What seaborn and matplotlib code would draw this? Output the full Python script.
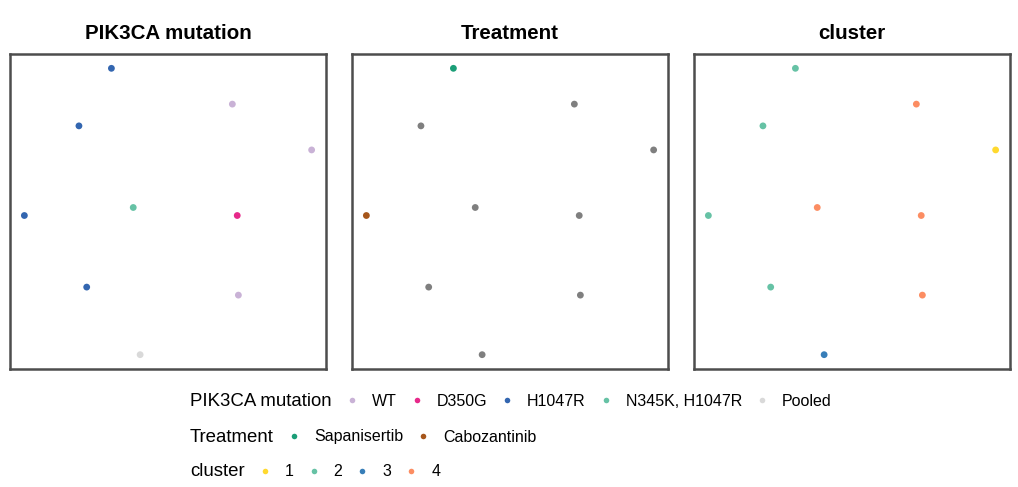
import matplotlib
matplotlib.use("Agg")
import matplotlib.pyplot as plt
import seaborn as sns
import pandas as pd
from matplotlib.lines import Line2D

# embedding coordinates for the 10 samples
umap_1 = [-1.97, 2.24, -3.10, 5.00, -5.00, -1.21, 2.41, -2.83, 2.45, -0.97]
umap_2 = [5.00, 3.75, 2.99, 2.15, -0.14, 0.14, -0.14, -2.64, -2.92, -5.00]

mutation = ["H1047R", "WT", "H1047R", "WT", "H1047R", "N345K, H1047R",
            "D350G", "H1047R", "WT", "Pooled"]
treatment = ["Sapanisertib", "NA", "NA", "NA", "Cabozantinib", "NA",
             "NA", "NA", "NA", "NA"]
cluster = ["2", "4", "2", "1", "2", "4", "4", "2", "4", "3"]

mutation_levels = ["WT", "D350G", "H1047R", "N345K, H1047R", "Pooled"]
treatment_levels = ["Sapanisertib", "Cabozantinib"]
cluster_levels = ["1", "2", "3", "4"]

mutation_colors = {"WT": "#c9b2d6", "D350G": "#e7298a", "H1047R": "#3366b0",
                   "N345K, H1047R": "#66c2a5", "Pooled": "#d9d9d9"}
treatment_colors = {"Sapanisertib": "#1b9e77", "Cabozantinib": "#a6561b",
                    "NA": "#7f7f7f"}
cluster_colors = {"1": "#ffd92f", "2": "#66c2a5", "3": "#377eb8", "4": "#fc8d62"}

df = pd.DataFrame({"UMAP_1": umap_1, "UMAP_2": umap_2,
                   "PIK3CA mutation": mutation, "Treatment": treatment,
                   "cluster": cluster})

sns.set_theme(style="white")
plt.rcParams["font.family"] = ["Liberation Sans", "DejaVu Sans"]

fig = plt.figure(figsize=(10.18, 4.87), dpi=100)
W, H = 1018, 487

panels = [("PIK3CA mutation", mutation_colors, 10),
          ("Treatment", treatment_colors, 352),
          ("cluster", cluster_colors, 694)]

for col, pal, left in panels:
    ax = fig.add_axes([left / W, (H - 369) / H, 316 / W, 315 / H])
    sns.scatterplot(data=df, x="UMAP_1", y="UMAP_2", hue=col, palette=pal,
                    s=24, linewidth=0, legend=False, ax=ax)
    ax.margins(0.05)
    ax.set_xticks([])
    ax.set_yticks([])
    ax.set_xlabel("")
    ax.set_ylabel("")
    ax.set_title(col, fontsize=14.8, fontweight="bold", pad=11, color="black")
    for sp in ax.spines.values():
        sp.set_color("#4d4d4d")
        sp.set_linewidth(1.8)

renderer = fig.canvas.get_renderer()
LABEL_SIZE = 11.5
GAP = 20  # px between text end and next key centre / key centre and text


def add_legend(title, levels, colors, y_px):
    t = fig.text(190 / W, 1 - y_px / H, title, fontsize=13.4,
                 va="center", ha="left", color="black")
    title_end = t.get_window_extent(renderer).x1
    em = LABEL_SIZE * 100 / 72
    hl = 0.6
    pad = GAP / em - hl / 2
    handles = [Line2D([], [], marker="o", linestyle="", markersize=4,
                      markerfacecolor=colors[l], markeredgewidth=0) for l in levels]
    fig.legend(handles, levels, loc="center left",
               bbox_to_anchor=((title_end + GAP - hl / 2 * em) / W, 1 - y_px / H),
               ncol=len(levels), frameon=False, fontsize=LABEL_SIZE,
               labelcolor="black",
               handlelength=hl, handletextpad=pad, columnspacing=pad,
               borderpad=0, borderaxespad=0)


add_legend("PIK3CA mutation", mutation_levels, mutation_colors, 401)
add_legend("Treatment", treatment_levels, treatment_colors, 437)
add_legend("cluster", cluster_levels, cluster_colors, 472)

fig.savefig("out.png", dpi=100)
